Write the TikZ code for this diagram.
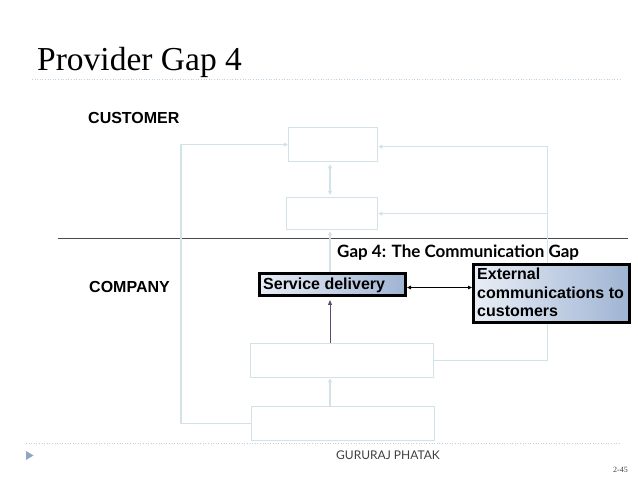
\documentclass[tikz,border=0pt]{standalone}
\usepackage{fontspec}
\setmainfont{Liberation Serif}
\setsansfont{Liberation Sans}
\newfontfamily\gillfont{Lato}
\usetikzlibrary{arrows.meta}
\definecolor{pale}{HTML}{D3E2E9}
\definecolor{dotblue}{HTML}{BDD3E2}
\definecolor{shadeL}{HTML}{E9EEF6}
\definecolor{shadeR}{HTML}{9FB4D3}
\definecolor{purp}{HTML}{5E4B6E}
\definecolor{divider}{HTML}{4A4A4A}
\definecolor{tri}{HTML}{8FA6C2}
\definecolor{foot}{HTML}{404040}
\begin{document}
\begin{tikzpicture}[x=1pt,y=-1pt,
  palebox/.style={draw=pale,line width=1.3pt,inner sep=0pt,anchor=north west},
  paleline/.style={draw=pale,line width=1.1pt},
  paletip/.style={-{Triangle[length=4pt,width=4pt]}},
  boldbox/.style={draw=black,line width=3pt,inner sep=0pt,anchor=north west,
    left color=shadeL,right color=shadeR},
  boxtext/.style={font=\sffamily\bfseries\fontsize{16}{18.5}\selectfont,align=left},
  dotline/.style={draw=dotblue,line width=0.9pt,dash pattern=on 1pt off 1.6pt},
]
\useasboundingbox (0,0) rectangle (638,478);

% title and header rule
\node[anchor=base west,inner sep=0pt] (title) at (37,71) {\fontsize{33.5}{35}\selectfont Provider Gap 4};
\draw[dotline] (32,79) -- (620,79);

% side labels
\node[anchor=west,inner sep=0pt,font=\sffamily\bfseries\fontsize{16}{18}\selectfont] (cust) at (88,118) {CUSTOMER};
\node[anchor=west,inner sep=0pt,font=\sffamily\bfseries\fontsize{16}{18}\selectfont] (comp) at (89,287) {COMPANY};

% divider
\draw[divider,line width=1pt] (58,239) -- (628,239);

% pale boxes
\node[palebox,minimum width=89pt,minimum height=34pt] (b1) at (288,127) {};
\node[palebox,minimum width=91pt,minimum height=32pt] (b2) at (286,197) {};
\node[palebox,minimum width=183pt,minimum height=34pt] (b3) at (250,343) {};
\node[palebox,minimum width=183pt,minimum height=34pt] (b4) at (251,406) {};

\coordinate (axis) at (330,0);
\coordinate (L) at (181,0);
\coordinate (R) at (547.5,0);

% pale connectors
\draw[paleline,{Triangle[length=4pt,width=4pt]}-{Triangle[length=4pt,width=4pt]}]
  ([yshift=-2pt]b1.south -| axis) -- ([yshift=2pt]b2.north -| axis);
\draw[paleline,paletip] (b4.north -| axis) -- (b3.south -| axis);
\draw[paleline,paletip] (b4.west) -| (L |- b1.west) -- (b1.west);
\draw[paleline,paletip] (b3.east) -| ([yshift=-2pt]R |- b1.east) -- ([yshift=-2pt]b1.east);
\draw[paleline,paletip] (R |- b2.east) -- (b2.east);

% gap label
\node[anchor=west,inner sep=0pt,font=\gillfont\bfseries\fontsize{17}{19}\selectfont] (gap) at (337,253) {Gap 4: The Communication Gap};

% bold boxes
\node[boldbox,minimum width=146pt,minimum height=22pt] (sd) at (258,272) {};
\node[boxtext,anchor=base west,inner sep=0pt] (sdt) at (263,290) {Service delivery};
\node[boldbox,minimum width=156pt,minimum height=58pt] (ext) at (472,263) {};
\node[boxtext,anchor=north west,inner sep=0pt] (extt) at (477,268) {External\\communications to\\customers};

% connectors to service delivery
\draw[paleline,paletip] (sd.north -| axis) -- ([yshift=-1pt]b2.south -| axis);
\draw[purp,line width=1pt,-{Triangle[length=5pt,width=4pt]}] (b3.north -| axis) -- ([yshift=-3pt]sd.south -| axis);
\draw[black,line width=0.9pt,{Triangle[length=4pt,width=3.5pt]}-{Triangle[length=4pt,width=3.5pt]}]
  ([yshift=-3pt]sd.east) -- ([yshift=-3pt]sd.east -| ext.west);

% footer
\draw[dotline] (26,443) -- (620,443);
\fill[tri] (26,451) -- (33.5,455.5) -- (26,460) -- cycle;
\node[inner sep=0pt,font=\gillfont\fontsize{12}{14}\selectfont,text=foot] (author) at (388,455) {GURURAJ PHATAK};
\node[anchor=east,inner sep=0pt,font=\fontsize{8}{9}\selectfont,text=foot] (pg) at (628,470) {2-45};
\end{tikzpicture}
\end{document}
